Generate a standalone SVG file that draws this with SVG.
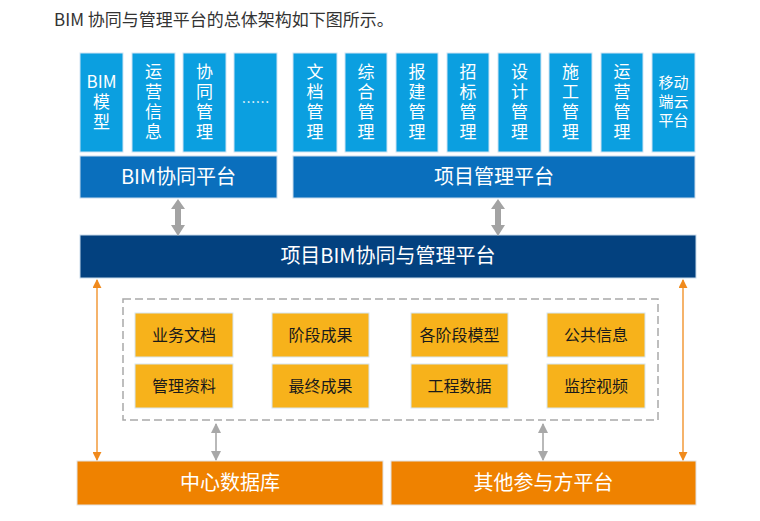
<svg xmlns="http://www.w3.org/2000/svg" width="760" height="521" viewBox="0 0 760 521">
<defs>
<style>
text{font-family:"Noto Sans CJK SC","Liberation Sans",sans-serif;}
.sb{fill:#0b9fe0;stroke:#cfe4f4;stroke-width:1;}
.bar{fill:#0a6fbd;stroke:#c9dcec;stroke-width:1;}
.mid{fill:#03417f;stroke:#c9dcec;stroke-width:1;}
.yb{fill:#f7b21b;stroke:#d6e6f2;stroke-width:1;}
.ob{fill:#ef8200;stroke:#e2e2e2;stroke-width:1;}
.w{fill:#ffffff;text-anchor:middle;}
.col{fill:#ffffff;font-size:17px;writing-mode:vertical-rl;text-orientation:upright;letter-spacing:3px;}
.vt{font-size:17px;}
.vs{font-size:15px;}
.bt{font-size:20px;}
.yt{fill:#1a1a1a;font-size:16px;text-anchor:middle;}
.og{stroke:#f08a1c;stroke-width:1.3;fill:none;}
.tg{stroke:#a8a8a8;stroke-width:1.6;fill:none;}
</style>
<marker id="ao" viewBox="0 0 10 10" refX="9" refY="5" markerWidth="9" markerHeight="9" markerUnits="userSpaceOnUse" orient="auto-start-reverse"><path d="M0,0 L10,5 L0,10 z" fill="#f08a1c"/></marker>
<marker id="ag" viewBox="0 0 10 10" refX="9" refY="5" markerWidth="10" markerHeight="10" markerUnits="userSpaceOnUse" orient="auto-start-reverse"><path d="M0,0 L10,5 L0,10 z" fill="#a8a8a8"/></marker>
</defs>
<rect width="760" height="521" fill="#ffffff"/>
<text x="54" y="26" font-size="17" fill="#333333">BIM 协同与管理平台的总体架构如下图所示。</text>

<g id="n-bim-model"><rect class="sb" x="80" y="53" width="43" height="99"/><text class="w vt" x="101.5" y="88">BIM</text><text class="col" x="101.5" y="93">模型</text></g>
<g id="n-yunying"><rect class="sb" x="132" y="53" width="43" height="99"/><text class="col" x="153.5" y="63">运营信息</text></g>
<g id="n-xietong"><rect class="sb" x="183" y="53" width="43" height="99"/><text class="col" x="204.5" y="63">协同管理</text></g>
<g id="n-more"><rect class="sb" x="234" y="53" width="43" height="99"/><text class="w" font-size="14" x="255.5" y="107">……</text></g>

<g id="n-wendang"><rect class="sb" x="293" y="53" width="44" height="99"/><text class="col" x="315" y="63">文档管理</text></g>
<g id="n-zonghe"><rect class="sb" x="345" y="53" width="42" height="99"/><text class="col" x="366" y="63">综合管理</text></g>
<g id="n-baojian"><rect class="sb" x="396" y="53" width="42" height="99"/><text class="col" x="417" y="63">报建管理</text></g>
<g id="n-zhaobiao"><rect class="sb" x="447" y="53" width="42" height="99"/><text class="col" x="468" y="63">招标管理</text></g>
<g id="n-sheji"><rect class="sb" x="498" y="53" width="43" height="99"/><text class="col" x="519.5" y="63">设计管理</text></g>
<g id="n-shigong"><rect class="sb" x="549" y="53" width="43" height="99"/><text class="col" x="570.5" y="63">施工管理</text></g>
<g id="n-yunyingguanli"><rect class="sb" x="601" y="53" width="42" height="99"/><text class="col" x="622" y="63">运营管理</text></g>
<g id="n-mobile"><rect class="sb" x="652" y="53" width="43" height="99"/><text class="w vs"><tspan x="673.5" y="88">移动</tspan><tspan x="673.5" y="107">端云</tspan><tspan x="673.5" y="126">平台</tspan></text></g>

<g id="n-bim-platform"><rect class="bar" x="80" y="156" width="197" height="42"/><text class="w bt" x="178.5" y="184">BIM协同平台</text></g>
<g id="n-pm-platform"><rect class="bar" x="293" y="156" width="402" height="42"/><text class="w bt" x="494" y="184">项目管理平台</text></g>

<g id="n-main"><rect class="mid" x="80" y="235" width="616" height="43"/><text class="w bt" x="388" y="263">项目BIM协同与管理平台</text></g>

<g id="n-data-group"><rect x="123" y="299" width="535" height="121" fill="none" stroke="#a9a9a9" stroke-width="1.5" stroke-dasharray="8,4"/></g>
<g id="n-yewu"><rect class="yb" x="135" y="313" width="98" height="44"/><text class="yt" x="184" y="341">业务文档</text></g>
<g id="n-jieduan"><rect class="yb" x="272" y="313" width="97" height="44"/><text class="yt" x="320.5" y="341">阶段成果</text></g>
<g id="n-moxing"><rect class="yb" x="411" y="313" width="97" height="44"/><text class="yt" x="459.5" y="341">各阶段模型</text></g>
<g id="n-gonggong"><rect class="yb" x="547" y="313" width="98" height="44"/><text class="yt" x="596" y="341">公共信息</text></g>
<g id="n-guanli"><rect class="yb" x="135" y="364" width="98" height="44"/><text class="yt" x="184" y="392">管理资料</text></g>
<g id="n-zuizhong"><rect class="yb" x="272" y="364" width="97" height="44"/><text class="yt" x="320.5" y="392">最终成果</text></g>
<g id="n-gongcheng"><rect class="yb" x="411" y="364" width="97" height="44"/><text class="yt" x="459.5" y="392">工程数据</text></g>
<g id="n-jiankong"><rect class="yb" x="547" y="364" width="98" height="44"/><text class="yt" x="596" y="392">监控视频</text></g>

<g id="n-db"><rect class="ob" x="77" y="461" width="306" height="44"/><text class="w bt" x="230" y="490">中心数据库</text></g>
<g id="n-others"><rect class="ob" x="391" y="461" width="305" height="44"/><text class="w bt" x="543.5" y="490">其他参与方平台</text></g>

<g id="connectors">
<path d="M178,199 L185,209 L181,209 L181,225 L185,225 L178,236 L171,225 L175,225 L175,209 L171,209 Z" fill="#a3a3a3"/>
<path d="M498,199 L505,209 L501,209 L501,225 L505,225 L498,236 L491,225 L495,225 L495,209 L491,209 Z" fill="#a3a3a3"/>
<line class="og" x1="97" y1="280" x2="97" y2="460" marker-start="url(#ao)" marker-end="url(#ao)"/>
<line class="og" x1="683" y1="280" x2="683" y2="460" marker-start="url(#ao)" marker-end="url(#ao)"/>
<line class="tg" x1="216" y1="424" x2="216" y2="460" marker-start="url(#ag)" marker-end="url(#ag)"/>
<line class="tg" x1="543" y1="424" x2="543" y2="460" marker-start="url(#ag)" marker-end="url(#ag)"/>
</g>
</svg>
